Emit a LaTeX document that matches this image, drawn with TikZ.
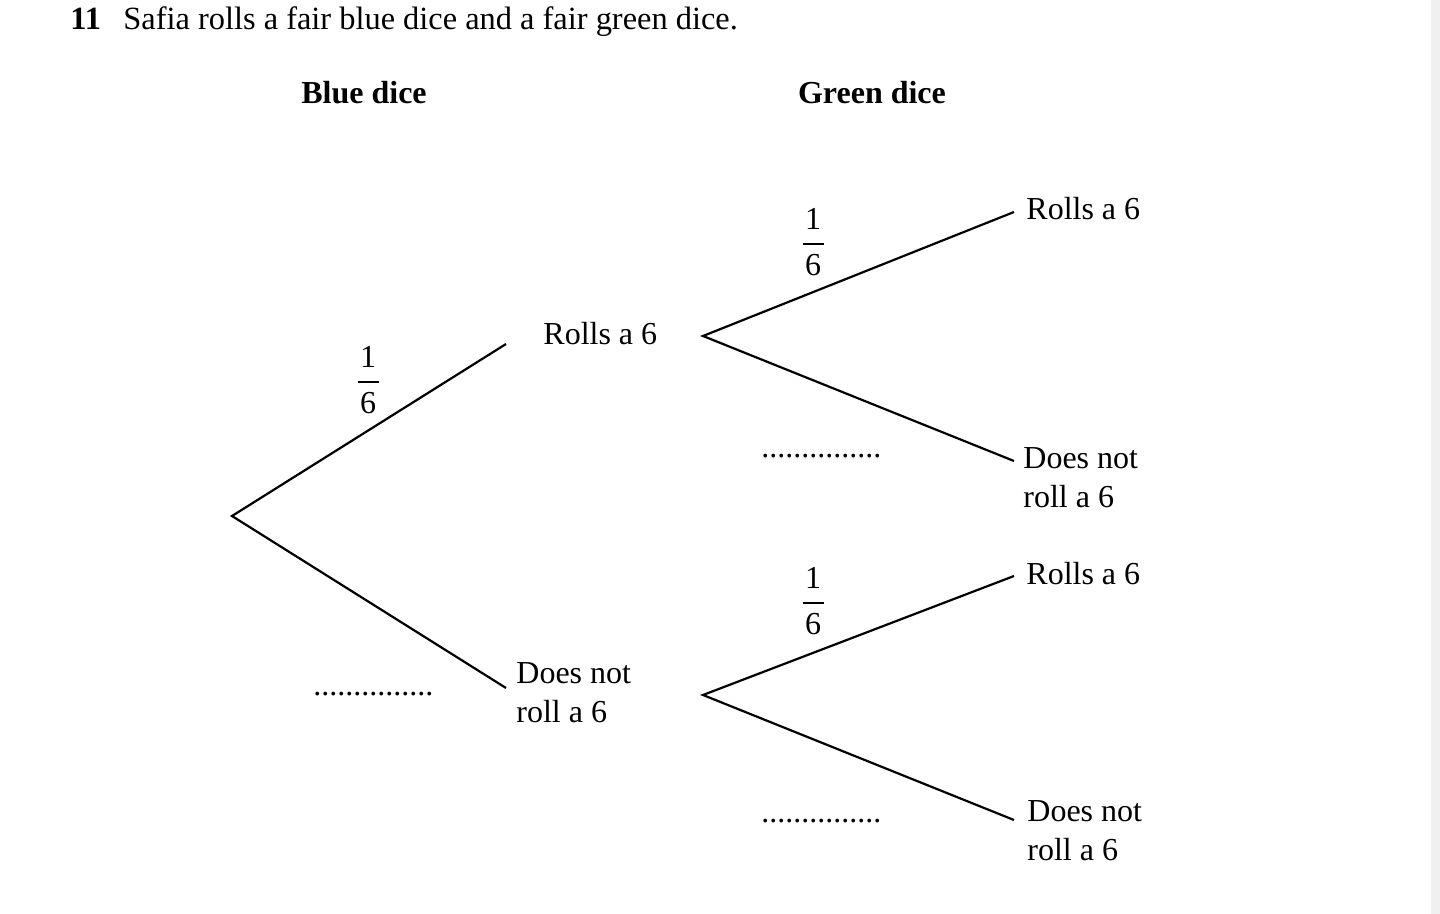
\documentclass[tikz,border=0pt]{standalone}
\usepackage{fontspec}
\setmainfont{Liberation Serif}
\usetikzlibrary{positioning}
\definecolor{stripgray}{HTML}{F0F0F0}
\newcommand{\onesixth}{{\renewcommand{\arraystretch}{1.13}\setlength{\tabcolsep}{1.25pt}\setlength{\arrayrulewidth}{0.8pt}\begin{tabular}{c}1\\\hline 6\end{tabular}}}

\begin{document}
\begin{tikzpicture}[x=0.5pt,y=-0.5pt,
    branch/.style={line width=1.1pt},
    lbl/.style={anchor=base west, inner sep=0pt, align=left, font=\fontsize{16}{19.5}\selectfont},
    head/.style={anchor=base, inner sep=0pt, font=\fontsize{16}{19.5}\selectfont\bfseries},
    prob/.style={inner sep=0pt, font=\fontsize{16}{19.5}\selectfont}]
    \useasboundingbox (0,0) rectangle (1440,914);
    \fill[stripgray] (1431,0) rectangle (1440,914);

    % question
    \node[lbl, font=\fontsize{16.2}{19.5}\selectfont\bfseries] (qnum) at (70,30) {11};
    \node[lbl, font=\fontsize{16.2}{19.5}\selectfont] (qtext) at (123,30) {Safia rolls a fair blue dice and a fair green dice.};
    \node[head] (blue) at (364,104) {Blue dice};
    \node[head] (green) at (872,104) {Green dice};

    % blue dice
    \coordinate (root) at (232,516);
    \coordinate (b6) at (506,344);
    \coordinate (bn) at (506,688);
    \node[lbl] (b6text) at (543,345) {Rolls a 6};
    \node[lbl] (bntext) at (516,722) {Does not\\roll a 6};
    \draw[branch] (b6) -- (root) -- (bn);
    \node[prob] (pb6) at (368,382) {\onesixth};
    \node[lbl] (pbn) at (313,695) {...............};

    % green dice after a 6
    \coordinate (r6) at (703,336);
    \coordinate (g66) at (1014,212);
    \coordinate (g6n) at (1014,461);
    \node[lbl] (g66text) at (1026,220) {Rolls a 6};
    \node[lbl] (g6ntext) at (1023,507) {Does not\\roll a 6};
    \draw[branch] (g66) -- (r6) -- (g6n);
    \node[prob] (pg66) at (813,244) {\onesixth};
    \node[lbl] (pg6n) at (761,458) {...............};

    % green dice after not a 6
    \coordinate (rn) at (703,695);
    \coordinate (gn6) at (1014,576);
    \coordinate (gnn) at (1014,820);
    \node[lbl] (gn6text) at (1026,584) {Rolls a 6};
    \node[lbl] (gnntext) at (1027,860) {Does not\\roll a 6};
    \draw[branch] (gn6) -- (rn) -- (gnn);
    \node[prob] (pgn6) at (813,603) {\onesixth};
    \node[lbl] (pgnn) at (761,822) {...............};
\end{tikzpicture}
\end{document}
